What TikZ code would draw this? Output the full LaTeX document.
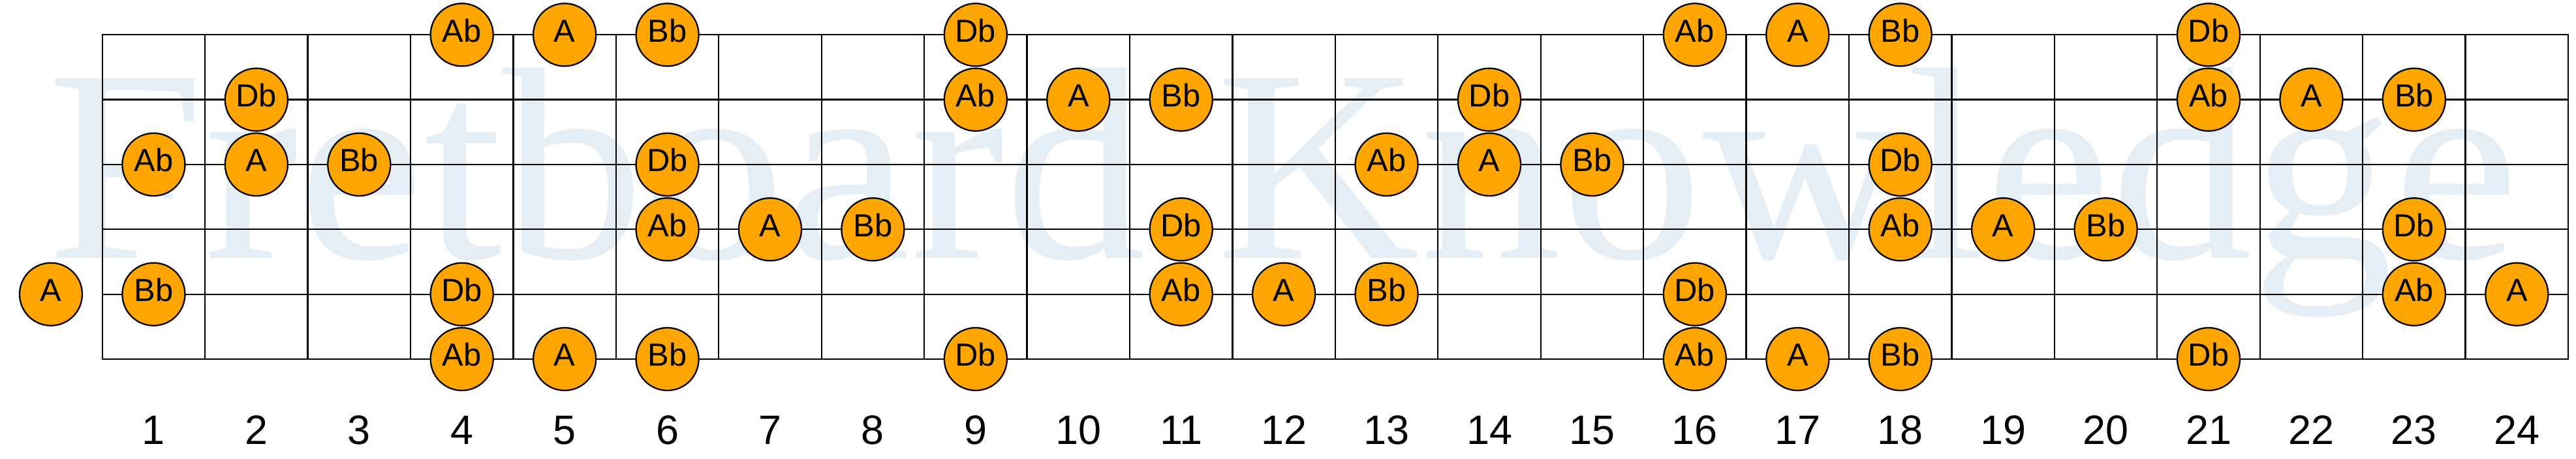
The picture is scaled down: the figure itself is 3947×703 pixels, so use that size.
\documentclass[tikz,border=0pt]{standalone}
\usepackage{fontspec}
\setmainfont{Liberation Sans}
\newfontfamily\wmfont{Liberation Serif}
\definecolor{noteorange}{RGB}{255,165,0}
\definecolor{wmblue}{RGB}{229,238,245}
\begin{document}
\begin{tikzpicture}[x=0.01cm,y=-0.01cm,
  note/.style={circle,draw=black,line width=0.65pt,fill=noteorange,minimum size=0.96cm,inner sep=0pt,
    font=\fontsize{13.9}{14}\selectfont,text height=0.73em,text depth=0.12em},
  fretnum/.style={font=\fontsize{17.9}{18}\selectfont,anchor=base,inner sep=0pt},
  gridline/.style={line width=0.65pt,black,line cap=rect}]
\useasboundingbox (0,0) rectangle (3947,703);
% watermark
\node[text=wmblue,anchor=base west,inner sep=0pt,font=\wmfont\fontsize{119.5}{120}\selectfont] (wm) at (72,395)
  {\scalebox{1.03}[1]{Fretboard Knowledge}};
% strings
\foreach \s in {0,...,5}
  \draw[gridline] (156.7,{53.3+99.34*\s}) -- (3935,{53.3+99.34*\s});
% frets
\foreach \f in {0,...,24}
  \draw[gridline] ({156.7+157.43*\f},53.3) -- ({156.7+157.43*\f},550);
% notes
\foreach \r/\f/\t in {
  0/4/Ab,0/5/A,0/6/Bb,0/9/Db,0/16/Ab,0/17/A,0/18/Bb,0/21/Db,
  1/2/Db,1/9/Ab,1/10/A,1/11/Bb,1/14/Db,1/21/Ab,1/22/A,1/23/Bb,
  2/1/Ab,2/2/A,2/3/Bb,2/6/Db,2/13/Ab,2/14/A,2/15/Bb,2/18/Db,
  3/6/Ab,3/7/A,3/8/Bb,3/11/Db,3/18/Ab,3/19/A,3/20/Bb,3/23/Db,
  4/0/A,4/1/Bb,4/4/Db,4/11/Ab,4/12/A,4/13/Bb,4/16/Db,4/23/Ab,4/24/A,
  5/4/Ab,5/5/A,5/6/Bb,5/9/Db,5/16/Ab,5/17/A,5/18/Bb,5/21/Db}
  \node[note] (n\r-\f) at ({156.7+157.43*(\f-0.5)},{53.3+99.34*\r}) {\t};
% fret numbers
\foreach \f in {1,...,24}
  \node[fretnum] (f\f) at ({156.7+157.43*(\f-0.5)},680) {\f};
\end{tikzpicture}
\end{document}
